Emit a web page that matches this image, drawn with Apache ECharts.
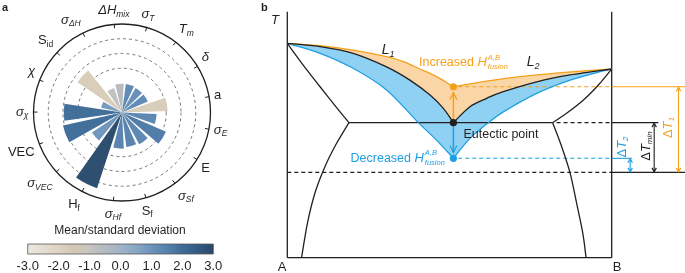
<!DOCTYPE html>
<html><head><meta charset="utf-8">
<script src="https://cdn.jsdelivr.net/npm/echarts@6/dist/echarts.min.js"></script>
<style>html,body{margin:0;padding:0;background:#fff}#c{width:685px;height:273px}</style>
</head><body><div id="c"></div>
<script>
// ---------- Panel a: feature rose ----------
const features = ['ΔHmix','σT','Tm','δ','a','σE','E','σSf','Sf','σHf','Hf','σVEC','VEC','σχ','χ','Sid','σΔH'];
const featureLabels = ['{i|ΔH}{si|mix}','{i|σ}{si|T}','{i|T}{si|m}','{i|δ}','a','{i|σ}{si|E}','E','{i|σ}{si|Sf}','S{s|f}','{i|σ}{si|Hf}','H{s|f}','{i|σ}{si|VEC}','VEC','{i|σ}{si|χ}','{i|χ}','S{s|id}','{i|σ}{si|ΔH}'];
const barLength = [1.95,1.95,1.9,1.9,3.1,2.35,3.25,2.45,2.35,2.45,5.4,2.45,4.1,3.95,1.45,3.65,1.75];
const meanStd   = [-0.6,1.2,1.1,1.2,-1.8,1.3,1.6,1.3,1.4,1.4,2.8,0.9,1.9,1.9,0.8,-1.8,-0.9];
const colorbarTicks = [-3,-2,-1,0,1,2,3];

// ---------- Panel b: schematic phase diagram (composition 0..100, T 0..100) ----------
const orangeLeft  = [[0,87.1],[10.1,86.2],[20.3,84.4],[30.6,81.7],[35.8,79.7],[40.9,76.7],[46.0,73.6],[51.2,69.5]];
const orangeRight = [[51.2,69.5],[61.5,71.8],[71.7,73.6],[82.0,74.9],[92.3,76.0],[100,76.7]];
const liquidusL1  = [[0,87.1],[10.1,85.8],[20.3,83.1],[30.6,77.6],[37.8,72.2],[44.0,66.1],[48.1,60.7],[51.2,54.9]];
const liquidusL2  = [[51.2,54.9],[56.3,61.4],[61.5,64.8],[66.6,67.5],[76.9,71.5],[87.2,74.3],[100,76.7]];
const blueLeft    = [[0,87.1],[10.1,83.1],[20.3,77.0],[30.6,68.2],[40.4,54.9],[46.0,47.8],[51.2,40.4]];
const blueRight   = [[51.2,40.4],[56.3,48.5],[62.0,54.9],[66.6,59.3],[76.9,66.8],[87.2,72.2],[97.4,75.9],[100,76.7]];
const solidusLeft = [[0,87.1],[4.9,78.3],[10.1,69.5],[15.2,61.0],[19.0,54.9]];
const solvusLeft  = [[19.0,54.9],[15.2,46.5],[11.6,37.0],[8.5,26.2],[6.2,14.0],[4.4,0]];
const solidusRight= [[100,76.7],[95.9,70.2],[91.3,64.1],[86.1,58.7],[81.8,54.9]];
const solvusRight = [[81.8,54.9],[84.6,45.1],[87.2,34.3],[89.2,22.1],[91.1,9.9],[92.1,0]];
const eutecticX = 51.2, eutecticT = 54.9, increasedT = 69.5, decreasedT = 40.4, baseT = 34.7;
const eutecticLineX = [19.0, 81.8];
const deltaT1X = 120.6, deltaTminX = 113.1, deltaT2X = 105.7;

const FONT = 'Arial, "Liberation Sans", Helvetica, sans-serif';
const INK = '#231f20', ORANGE = '#f5a01d', BLUE = '#1e9fe3', ORANGE_FILL = '#fad6a6', BLUE_FILL = '#8fd1f3';
const cmap = [[-3,'#ece7df'],[-2,'#ddd3c3'],[-1.5,'#d4c7b2'],[-1,'#c6c5c0'],[-0.5,'#b4bac0'],[0,'#a0b3c6'],[0.5,'#88a7c6'],[1,'#6d93bb'],[1.5,'#5582ad'],[2,'#3f6a96'],[2.5,'#335a80'],[3,'#2b4866']];

function hex(c){return [parseInt(c.slice(1,3),16),parseInt(c.slice(3,5),16),parseInt(c.slice(5,7),16)];}
function colorFor(v){
  for (let i=0;i<cmap.length-1;i++){
    const [v0,c0]=cmap[i],[v1,c1]=cmap[i+1];
    if (v<=v1 || i===cmap.length-2){
      const t=Math.max(0,Math.min(1,(v-v0)/(v1-v0)));
      const a=hex(c0),b=hex(c1);
      return 'rgb('+a.map((x,k)=>Math.round(x+(b[k]-x)*t)).join(',')+')';
    }
  }
}

const chart = echarts.init(document.getElementById('c'));

function segPath(q, first){
  let d = (first?'M':'L')+q[0][0]+','+q[0][1];
  for (let i=0;i<q.length-1;i++){
    const p0=q[Math.max(i-1,0)],p1=q[i],p2=q[i+1],p3=q[Math.min(i+2,q.length-1)];
    const c1=[p1[0]+(p2[0]-p0[0])/6,p1[1]+(p2[1]-p0[1])/6];
    const c2=[p2[0]-(p3[0]-p1[0])/6,p2[1]-(p3[1]-p1[1])/6];
    d+='C'+c1[0]+','+c1[1]+','+c2[0]+','+c2[1]+','+p2[0]+','+p2[1];
  }
  return d;
}

function renderPhase(params, api){
  const P = p => api.coord(p);
  const Q = pts => pts.map(P);
  const rev = a => a.slice().reverse();
  const ch = [];
  const stroke = (pts,color) => ch.push({type:'path',shape:{pathData:segPath(Q(pts),true)},style:{fill:'none',stroke:color,lineWidth:1.3}});
  const line = (a,b,color,dash,w) => { const p=P(a), q=P(b); ch.push({type:'line',shape:{x1:p[0],y1:p[1],x2:q[0],y2:q[1]},style:{stroke:color,lineWidth:w||1.1,lineDash:dash||null}}); };
  const chevron = (tip, dir, color, w, h) => {
    const t=P(tip);
    ch.push({type:'polyline',shape:{points:[[t[0]-w,t[1]-dir*h],[t[0],t[1]],[t[0]+w,t[1]-dir*h]]},style:{fill:'none',stroke:color,lineWidth:1.2}});
  };
  ch.push({type:'path',shape:{pathData:segPath(Q(orangeLeft),true)+segPath(Q(orangeRight),false)+segPath(Q(rev(liquidusL2)),false)+segPath(Q(rev(liquidusL1)),false)+'Z'},style:{fill:ORANGE_FILL,stroke:'none'}});
  ch.push({type:'path',shape:{pathData:segPath(Q(liquidusL1),true)+segPath(Q(liquidusL2),false)+segPath(Q(rev(blueRight)),false)+segPath(Q(rev(blueLeft)),false)+'Z'},style:{fill:BLUE_FILL,stroke:'none'}});
  line([0,0],[0,100],INK,null,1.3); line([100,0],[100,100],INK,null,1.3); line([0,0],[100,0],INK,null,1.3);
  line([eutecticX+1.5,increasedT],[100,increasedT],ORANGE,[4,3]);
  line([100,increasedT],[122.6,increasedT],ORANGE);
  line([eutecticLineX[1]+1.2,eutecticT],[100,eutecticT],INK,[4,3]);
  line([100,eutecticT],[114.4,eutecticT],INK);
  line([eutecticX+1.5,decreasedT],[100,decreasedT],BLUE,[4,3]);
  line([100,decreasedT],[106.2,decreasedT],BLUE);
  line([0,baseT],[100,baseT],INK,[4,3]);
  line([100,baseT],[122.6,baseT],INK);
  line([eutecticLineX[0],eutecticT],[eutecticLineX[1],eutecticT],INK,null,1.3);
  stroke(orangeLeft,ORANGE); stroke(orangeRight,ORANGE);
  stroke(blueLeft,BLUE); stroke(blueRight,BLUE);
  stroke(liquidusL1,INK); stroke(liquidusL2,INK);
  stroke(solidusLeft,INK); stroke(solvusLeft,INK); stroke(solidusRight,INK); stroke(solvusRight,INK);
  const dbl=(x,t1,t2,color)=>{ line([x,t1],[x,t2],color,null,1.1); chevron([x,t1],-1,color,2.2,4); chevron([x,t2],1,color,2.2,4); };
  dbl(deltaT1X,increasedT-0.2,baseT+0.2,ORANGE);
  dbl(deltaTminX,eutecticT-0.2,baseT+0.2,INK);
  dbl(deltaT2X,decreasedT-0.2,baseT+0.2,BLUE);
  line([eutecticX,eutecticT],[eutecticX,increasedT-2.4],ORANGE,null,1.5);
  chevron([eutecticX,increasedT-2.4],-1,ORANGE,3.5,7);
  line([eutecticX,eutecticT],[eutecticX,decreasedT+2.4],BLUE,null,1.5);
  chevron([eutecticX,decreasedT+2.4],1,BLUE,3.5,7);
  const dot=(x,t,c)=>{const p=P([x,t]);ch.push({type:'circle',shape:{cx:p[0],cy:p[1],r:3.6},style:{fill:c}});};
  dot(eutecticX,increasedT,ORANGE); dot(eutecticX,eutecticT,INK); dot(eutecticX,decreasedT,BLUE);
  const txt=(pos,dx,dy,text,opt)=>{const p=P(pos);ch.push({type:'text',x:p[0]+dx,y:p[1]+dy,rotation:opt.rot||0,style:Object.assign({text:text,fontFamily:FONT,fontSize:12.5,fill:INK,align:'left',verticalAlign:'middle'},opt.style||{})});};
  const richSub = {i:{fontStyle:'italic',fontFamily:FONT,fontSize:14},s:{fontStyle:'italic',fontFamily:FONT,fontSize:9,padding:[9,0,0,0]}};
  txt([31.1,84.4],0,0,'{i|L}{s|1}',{style:{align:'center',rich:richSub}});
  txt([75.8,79.7],0,0,'{i|L}{s|2}',{style:{align:'center',rich:richSub}});
  txt([61.5,79.3],0,0,'Increased {i|H}',{style:{align:'right',fill:ORANGE,rich:{i:{fontStyle:'italic',fontFamily:FONT,fontSize:13,fill:ORANGE}}}});
  txt([61.5,79.3],1,-5,'A,B',{style:{fontSize:7.5,fontStyle:'italic',fill:ORANGE}});
  txt([61.5,79.3],1,4.5,'fusion',{style:{fontSize:7.5,fontStyle:'italic',fill:ORANGE}});
  txt([54.3,49.9],0,0,'Eutectic point',{});
  txt([42.1,40.4],0,0,'Decreased {i|H}',{style:{align:'right',fill:BLUE,rich:{i:{fontStyle:'italic',fontFamily:FONT,fontSize:13,fill:BLUE}}}});
  txt([42.1,40.4],1,-5,'A,B',{style:{fontSize:7.5,fontStyle:'italic',fill:BLUE}});
  txt([42.1,40.4],1,4.5,'fusion',{style:{fontSize:7.5,fontStyle:'italic',fill:BLUE}});
  const dRich = c => ({d:{fontFamily:FONT,fontSize:13,fill:c},i:{fontFamily:FONT,fontStyle:'italic',fontSize:13,fill:c},s:{fontFamily:FONT,fontStyle:'italic',fontSize:8,fill:c,padding:[7,0,0,0]}});
  txt([117.4,52.9],0,0,'{d|Δ}{i|T}{s|1}',{rot:Math.PI/2,style:{align:'center',rich:dRich(ORANGE)}});
  txt([110.6,45.4],0,0,'{d|Δ}{i|T}{s|min}',{rot:Math.PI/2,style:{align:'center',rich:dRich(INK)}});
  txt([103.2,45.0],0,0,'{d|Δ}{i|T}{s|2}',{rot:Math.PI/2,style:{align:'center',rich:dRich(BLUE)}});
  return {type:'group',children:ch};
}

function renderColorbar(params, api){
  const a = api.coord([api.value(0),1]), b = api.coord([api.value(1),0]);
  const stops = cmap.map(([v,c])=>({offset:(v-colorbarTicks[0])/(colorbarTicks[colorbarTicks.length-1]-colorbarTicks[0]),color:c}));
  return {type:'rect',shape:{x:a[0],y:a[1],width:b[0]-a[0],height:b[1]-a[1]},style:{fill:new echarts.graphic.LinearGradient(0,0,1,0,stops),stroke:'#555',lineWidth:0.8}};
}

const labelRich = {
  i:{fontStyle:'italic',fontFamily:FONT,fontSize:13,color:INK},
  s:{fontFamily:FONT,fontSize:8.5,color:INK,padding:[8,0,0,0]},
  si:{fontStyle:'italic',fontFamily:FONT,fontSize:8.5,color:INK,padding:[8,0,0,0]}
};

const option = {
  animation:false,
  textStyle:{fontFamily:FONT},
  polar:{center:[122,112.5],radius:88.5},
  angleAxis:{
    type:'category', data:features, startAngle:105.6, clockwise:true, boundaryGap:true,
    axisLine:{lineStyle:{color:INK,width:1.3}},
    axisTick:{show:true,alignWithLabel:true,inside:true,length:4,lineStyle:{color:INK,width:1}},
    axisLabel:{margin:5,fontSize:13,color:INK,fontFamily:FONT,formatter:(v,i)=>featureLabels[i],rich:labelRich},
    splitLine:{show:false}, splitArea:{show:false}
  },
  radiusAxis:{
    type:'value', min:0, max:6, interval:1,
    axisLine:{show:false}, axisTick:{show:false}, axisLabel:{show:false},
    splitLine:{show:true,lineStyle:{type:[3,3],width:0.8,color:['rgba(0,0,0,0)','rgba(0,0,0,0)','rgba(0,0,0,0)','#555','#555','#555','rgba(0,0,0,0)']}}
  },
  grid:[
    {left:287.3,top:11.7,width:397.7,height:246},
    {left:27.7,top:244,width:185.6,height:10}
  ],
  xAxis:[
    {gridIndex:0,type:'value',min:0,max:122.6,show:false},
    {gridIndex:1,type:'value',min:colorbarTicks[0],max:colorbarTicks[colorbarTicks.length-1],interval:1,
     axisLine:{show:false},axisTick:{show:false},splitLine:{show:false},
     axisLabel:{customValues:colorbarTicks,formatter:v=>Number(v).toFixed(1),fontSize:13,color:INK,margin:6,fontFamily:FONT}}
  ],
  yAxis:[
    {gridIndex:0,type:'value',min:0,max:100,show:false},
    {gridIndex:1,type:'value',min:0,max:1,show:false}
  ],
  series:[
    {type:'bar',coordinateSystem:'polar',barCategoryGap:'20%',silent:true,
     data:barLength.map((v,i)=>({value:v,itemStyle:{color:colorFor(meanStd[i])}}))},
    {type:'custom',xAxisIndex:0,yAxisIndex:0,silent:true,data:[[0,0]],renderItem:renderPhase},
    {type:'custom',xAxisIndex:1,yAxisIndex:1,silent:true,data:[[colorbarTicks[0],colorbarTicks[colorbarTicks.length-1]]],renderItem:renderColorbar}
  ],
  graphic:[
    {type:'text',x:2,y:2,style:{text:'a',font:'bold 11px '+FONT,fill:INK}},
    {type:'text',x:261,y:2,style:{text:'b',font:'bold 11px '+FONT,fill:INK}},
    {type:'text',x:120,y:231,style:{text:'Mean/standard deviation',font:'12px '+FONT,fill:INK,align:'center',verticalAlign:'middle',textAlign:'center',textVerticalAlign:'middle'}},
    {type:'text',x:275,y:20,style:{text:'T',font:'italic 13px '+FONT,fill:INK,align:'center',verticalAlign:'middle',textAlign:'center',textVerticalAlign:'middle'}},
    {type:'text',x:282,y:267,style:{text:'A',font:'13px '+FONT,fill:INK,align:'center',verticalAlign:'middle',textAlign:'center',textVerticalAlign:'middle'}},
    {type:'text',x:617,y:267,style:{text:'B',font:'13px '+FONT,fill:INK,align:'center',verticalAlign:'middle',textAlign:'center',textVerticalAlign:'middle'}}
  ]
};
chart.setOption(option);
</script></body></html>
